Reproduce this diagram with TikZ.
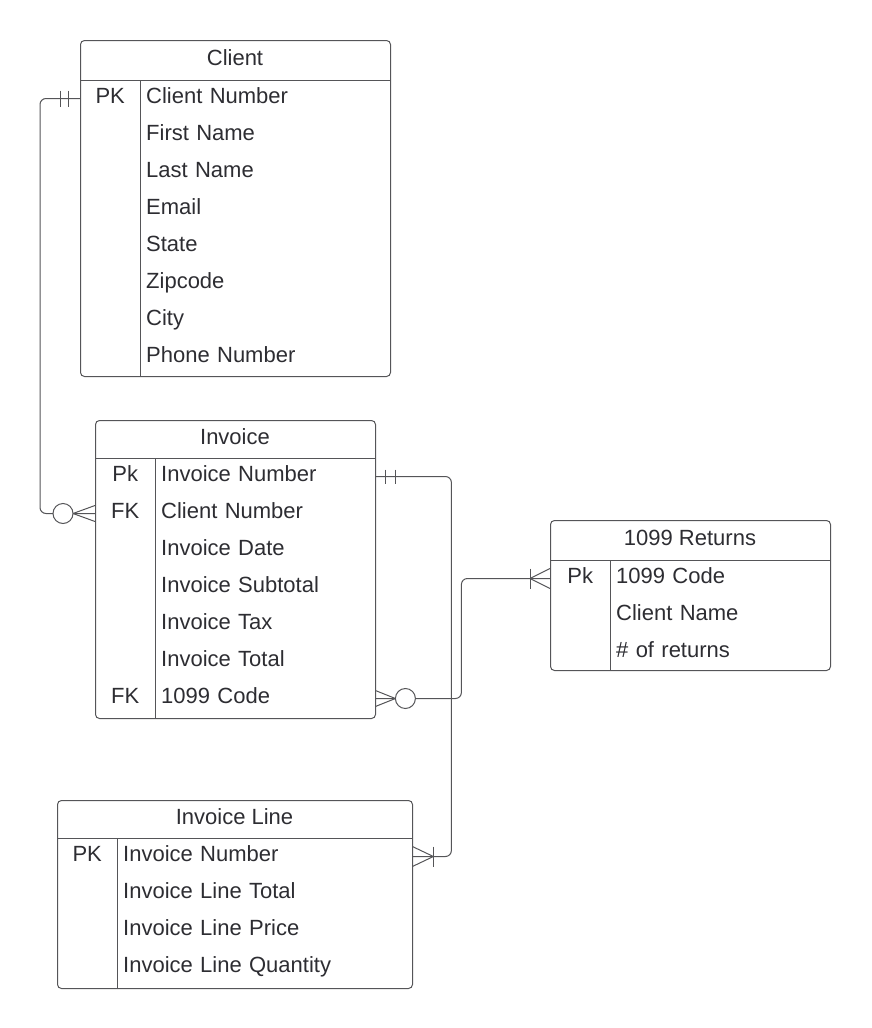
\documentclass[tikz,border=0pt]{standalone}
\usepackage{fontspec}
\setmainfont{Liberation Sans}
\usetikzlibrary{positioning, calc}
\definecolor{erline}{RGB}{85, 85, 88}
\definecolor{ertext}{RGB}{45, 45, 50}

\begin{document}
\begin{tikzpicture}[
  x=1pt, y=-1pt,
  tbl/.style={draw=erline, line width=1pt, rounded corners=4pt, anchor=north west, inner sep=0pt},
  head/.style={text height=15pt, text depth=5pt, inner sep=0pt, font=\fontsize{22}{26}\selectfont, text=ertext},
  field/.style={anchor=west, inner xsep=6pt, inner ysep=0pt, text height=15pt, text depth=5pt, align=left, font=\fontsize{22}{26}\selectfont, text=ertext},
  key/.style={anchor=west, inner sep=0pt, minimum width=60pt, text height=15pt, text depth=5pt, font=\fontsize{22}{26}\selectfont, text=ertext},
  rel/.style={draw=erline, line width=1pt, rounded corners=6pt},
  cross/.style={draw=erline, line width=1pt}
]
  \useasboundingbox (0,0) rectangle (871,1028);

  % Client
  \node[tbl, minimum width=310pt, minimum height=336pt] (client) at (80,40) {};
  \node[head] (client-head) at (235,60) {Client};
  \draw[cross] (80,80) -- (390,80);
  \draw[cross] (140,80) -- (140,376);
  \foreach \f [count=\i] in {Client Number, First Name, Last Name, Email, State, Zipcode, City, Phone Number}
    \node[field, text width=238pt] (client-\i) at (140,{61.5+37*\i}) {\f};
  \node[key] (client-k1) at (80,98.5) {PK};

  % Invoice
  \node[tbl, minimum width=280pt, minimum height=298pt] (inv) at (95,420) {};
  \node[head] (inv-head) at (235,439.5) {Invoice};
  \draw[cross] (95,458) -- (375,458);
  \draw[cross] (155,458) -- (155,718);
  \foreach \f [count=\i] in {Invoice Number, Client Number, Invoice Date, Invoice Subtotal, Invoice Tax, Invoice Total, 1099 Code}
    \node[field, text width=208pt] (inv-\i) at (155,{439.5+37*\i}) {\f};
  \node[key] (inv-k1) at (95,476.5) {Pk};
  \node[key] (inv-k2) at (95,513.5) {FK};
  \node[key] (inv-k7) at (95,698.5) {FK};

  % 1099 Returns
  \node[tbl, minimum width=280pt, minimum height=150pt] (ret) at (550,520) {};
  \node[head] (ret-head) at (690,540) {1099 Returns};
  \draw[cross] (550,560) -- (830,560);
  \draw[cross] (610,560) -- (610,670);
  \foreach \f [count=\i] in {1099 Code, Client Name, \# of returns}
    \node[field, text width=208pt] (ret-\i) at (610,{541.5+37*\i}) {\f};
  \node[key] (ret-k1) at (550,578.5) {Pk};

  % Invoice Line
  \node[tbl, minimum width=355pt, minimum height=188pt] (line) at (57,800) {};
  \node[head] (line-head) at (234.5,819.5) {Invoice Line};
  \draw[cross] (57,838) -- (412,838);
  \draw[cross] (117,838) -- (117,988);
  \foreach \f [count=\i] in {Invoice Number, Invoice Line Total, Invoice Line Price, Invoice Line Quantity}
    \node[field, text width=283pt] (line-\i) at (117,{819.5+37*\i}) {\f};
  \node[key] (line-k1) at (57,856.5) {PK};

  % Client -- Invoice
  \draw[rel] (client-k1.west) -- ++(-40,0) |- (inv-k2.west);
  \draw[cross] ([xshift=-20pt]client-k1.west) ++(0,-8) -- ++(0,16);
  \draw[cross] ([xshift=-12pt]client-k1.west) ++(0,-8) -- ++(0,16);
  \draw[cross] ([xshift=-22pt]inv-k2.west) -- ++(22,-8);
  \draw[cross] ([xshift=-22pt]inv-k2.west) -- ++(22,8);
  \draw[cross, fill=white] ([xshift=-32pt]inv-k2.west) circle (10pt);

  % Invoice -- Invoice Line
  \draw[rel] (inv-1.east) -- ++(76,0) |- (line-1.east);
  \draw[cross] ([xshift=10pt]inv-1.east) ++(0,-7) -- ++(0,14);
  \draw[cross] ([xshift=20pt]inv-1.east) ++(0,-7) -- ++(0,14);
  \draw[cross] ([xshift=21pt]line-1.east) -- ++(-21,-10);
  \draw[cross] ([xshift=21pt]line-1.east) -- ++(-21,10);
  \draw[cross] ([xshift=21pt]line-1.east) ++(0,-10) -- ++(0,20);

  % Invoice -- 1099 Returns
  \draw[rel] (inv-7.east) -- ++(86,0) |- (ret-k1.west);
  \draw[cross] ([xshift=20pt]inv-7.east) -- ++(-20,-8);
  \draw[cross] ([xshift=20pt]inv-7.east) -- ++(-20,8);
  \draw[cross, fill=white] ([xshift=30pt]inv-7.east) circle (10pt);
  \draw[cross] ([xshift=-20pt]ret-k1.west) -- ++(20,-10);
  \draw[cross] ([xshift=-20pt]ret-k1.west) -- ++(20,10);
  \draw[cross] ([xshift=-20pt]ret-k1.west) ++(0,-10) -- ++(0,20);
\end{tikzpicture}
\end{document}
